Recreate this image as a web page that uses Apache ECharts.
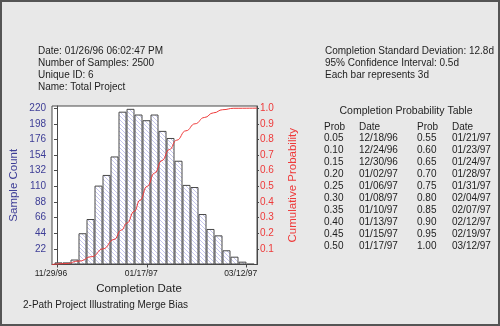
<!DOCTYPE html>
<html><head><meta charset="utf-8">
<script src="https://cdn.jsdelivr.net/npm/echarts@6/dist/echarts.min.js"></script>
<style>html,body{margin:0;padding:0;background:#e8e8e8}#c{width:500px;height:326px}</style>
</head><body><div id="c"></div>
<script>
// ---- data ----
const barCounts = [3, 3, 7, 44, 64, 111, 126, 152, 215, 219, 211, 203, 211, 188, 178, 146, 112, 109, 71, 50, 41, 20, 11, 4, 1];
const barNames = barCounts.map((_, i) => 'bin' + (i + 1));
const yLeftTicks = [22, 44, 66, 88, 110, 132, 154, 176, 198, 220];
const yRightTicks = [0.1, 0.2, 0.3, 0.4, 0.5, 0.6, 0.7, 0.8, 0.9, 1.0];
const xTickLabels = ['11/29/96', '01/17/97', '03/12/97'];
// cumulative curve as drawn (days after 11/29/96, probability), estimated from the picture and its table
const curveDays = [-2.7, 5, 12, 19, 25, 31, 35, 38, 42, 45, 49, 53, 57, 61, 65, 70, 75, 80, 85, 90, 96, 108.6];
const curveProb = [0, 0.006, 0.022, 0.05, 0.10, 0.16, 0.22, 0.265, 0.34, 0.41, 0.50, 0.585, 0.665, 0.735, 0.795, 0.855, 0.90, 0.94, 0.97, 0.99, 0.999, 1.0];
const tableProb = ['0.05','0.10','0.15','0.20','0.25','0.30','0.35','0.40','0.45','0.50',
                   '0.55','0.60','0.65','0.70','0.75','0.80','0.85','0.90','0.95','1.00'];
const tableDate = ['12/18/96','12/24/96','12/30/96','01/02/97','01/06/97','01/08/97','01/10/97','01/13/97','01/15/97','01/17/97',
                   '01/21/97','01/23/97','01/24/97','01/28/97','01/31/97','02/04/97','02/07/97','02/12/97','02/19/97','03/12/97'];
const headerLeft = ['Date: 01/26/96 06:02:47 PM', 'Number of Samples: 2500', 'Unique ID: 6', 'Name: Total Project'];
const headerRight = ['Completion Standard Deviation: 12.8d', '95% Confidence Interval: 0.5d', 'Each bar represents 3d'];
const tableTitle = 'Completion Probability Table';
const tableHead = ['Prob', 'Date', 'Prob', 'Date'];
const footer = '2-Path Project Illustrating Merge Bias';

// ---- helpers ----
function dayNum(s) { const [m, d, y] = s.split('/').map(Number); return Date.UTC(1900 + y, m - 1, d) / 864e5; }
const origin = dayNum(xTickLabels[0]);
const xMin = -2.7, xMax = 108.6;
const xTickDays = xTickLabels.map(s => dayNum(s) - origin);
const curve = curveDays.map((d, i) => [d, curveProb[i]]);

const FONT = '"Liberation Sans", Arial, sans-serif';
const BLUE = '#3d3d96', RED = '#ee3a3a', TXT = '#1e1e1e', FRAME = '#484848';

// hatch pattern (light diagonal "\" lines)
const pc = document.createElement('canvas');
pc.width = 4; pc.height = 4;
const g = pc.getContext('2d');
g.fillStyle = '#ffffff'; g.fillRect(0, 0, 4, 4);
g.fillStyle = '#c6c6ee';
for (let i = 0; i < 4; i++) g.fillRect(i, i, 1, 1);

const gridTop = 106, gridBottom = 61.5;
const yMaxLeft = 223;

const graphics = [];
graphics.push({ type: 'rect', shape: { x: 1, y: 1, width: 498, height: 324 }, style: { fill: 'none', stroke: '#555', lineWidth: 2 }, z: 100 });
headerLeft.forEach((t, i) => graphics.push({ type: 'text', x: 38, y: 51 + i * 12, style: { text: t, fill: TXT, font: '10px ' + FONT, textVerticalAlign: 'middle' } }));
headerRight.forEach((t, i) => graphics.push({ type: 'text', x: 325, y: 51 + i * 12, style: { text: t, fill: TXT, font: '10px ' + FONT, textVerticalAlign: 'middle' } }));
graphics.push({ type: 'text', x: 406, y: 111, style: { text: tableTitle, fill: TXT, font: '10.5px ' + FONT, textAlign: 'center', textVerticalAlign: 'middle' } });
const colX = [324, 359, 417, 452];
tableHead.forEach((t, i) => graphics.push({ type: 'text', x: colX[i], y: 127, style: { text: t, fill: TXT, font: '10px ' + FONT, textVerticalAlign: 'middle' } }));
for (let r = 0; r < 10; r++) {
  const y = 138.5 + r * 12;
  [tableProb[r], tableDate[r], tableProb[r + 10], tableDate[r + 10]].forEach((t, i) =>
    graphics.push({ type: 'text', x: colX[i], y: y, style: { text: t, fill: TXT, font: '10px ' + FONT, textVerticalAlign: 'middle' } }));
}
graphics.push({ type: 'text', x: 139, y: 289, style: { text: 'Completion Date', fill: TXT, font: '11.5px ' + FONT, textAlign: 'center', textVerticalAlign: 'middle' } });
graphics.push({ type: 'text', x: 23, y: 305, style: { text: footer, fill: TXT, font: '10px ' + FONT, textVerticalAlign: 'middle' } });

const chart = echarts.init(document.getElementById('c'), null, { renderer: 'canvas' });
chart.setOption({
  backgroundColor: '#e8e8e8',
  animation: false,
  textStyle: { fontFamily: FONT },
  grid: [
    { left: 52, right: 243, top: gridTop, bottom: gridBottom, show: true, backgroundColor: '#ffffff', borderColor: FRAME, borderWidth: 1, outerBoundsMode: 'none' },
    { left: 54.5, right: 245.5, top: gridTop, bottom: gridBottom, show: false, outerBoundsMode: 'none' }
  ],
  xAxis: [
    { type: 'value', gridIndex: 0, min: xMin, max: xMax,
      axisLine: { show: true, lineStyle: { color: FRAME } },
      axisTick: { show: true, length: 3, customValues: xTickDays, lineStyle: { color: FRAME } },
      axisLabel: { customValues: xTickDays, fontSize: 8.5, color: TXT, margin: 5, padding: [0, 12, 0, 0],
        formatter: v => { const k = xTickDays.findIndex(d => Math.abs(d - v) < 1e-6); return k >= 0 ? xTickLabels[k] : ''; } },
      splitLine: { show: false } },
    { type: 'category', gridIndex: 1, data: barNames, show: false, boundaryGap: true }
  ],
  yAxis: [
    { type: 'value', gridIndex: 0, position: 'left', min: 0, max: yMaxLeft,
      name: 'Sample Count', nameLocation: 'middle', nameGap: 32, nameRotate: 90,
      nameTextStyle: { color: BLUE, fontSize: 11.5 },
      axisLine: { show: true, lineStyle: { color: FRAME } },
      axisTick: { show: true, length: 3, customValues: yLeftTicks, lineStyle: { color: FRAME } },
      axisLabel: { customValues: yLeftTicks, color: BLUE, fontSize: 10, margin: 6 },
      splitLine: { show: false } },
    { type: 'value', gridIndex: 0, position: 'right', min: 0, max: yMaxLeft / 220,
      name: 'Cumulative Probability', nameLocation: 'middle', nameGap: 30, nameRotate: 90,
      nameTextStyle: { color: RED, fontSize: 11.5 },
      axisLine: { show: true, lineStyle: { color: FRAME } },
      axisTick: { show: true, length: 2, customValues: yRightTicks, lineStyle: { color: FRAME } },
      axisLabel: { customValues: yRightTicks, color: RED, fontSize: 10, margin: 3, formatter: v => v.toFixed(1) },
      splitLine: { show: false } },
    { type: 'value', gridIndex: 1, min: 0, max: yMaxLeft, show: false }
  ],
  series: [
    { type: 'bar', xAxisIndex: 1, yAxisIndex: 2, data: barCounts, barWidth: '100%', barGap: '0%',
      itemStyle: { color: { image: pc, repeat: 'repeat' }, borderColor: FRAME, borderWidth: 1 }, z: 2 },
    { type: 'line', xAxisIndex: 0, yAxisIndex: 1, data: curve, smooth: 0.5, smoothMonotone: 'x', showSymbol: false,
      lineStyle: { color: RED, width: 1 }, z: 5 }
  ],
  graphic: graphics
});
</script></body></html>
